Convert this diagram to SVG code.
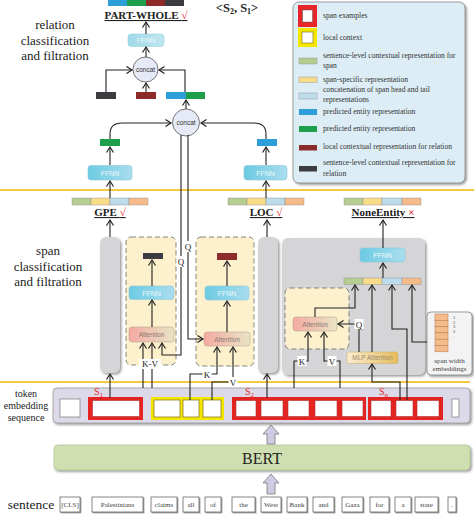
<svg xmlns="http://www.w3.org/2000/svg" width="474" height="517" viewBox="0 0 474 517">
<defs>
<style>
.lbl{font-family:"Liberation Serif",serif;font-size:13px;fill:#222;text-anchor:middle}
.leg{font-family:"Liberation Serif",serif;font-size:7.6px;fill:#333}
.ent{font-family:"Liberation Serif",serif;font-size:11px;font-weight:bold;fill:#222;text-anchor:middle;text-decoration:underline}
.red{fill:#e8262a}
.ffnn{fill:url(#gF);stroke:#8cc8da;stroke-width:0.6}
.ft{font-family:"Liberation Sans",sans-serif;font-size:7px;fill:#eef8fb;text-anchor:middle}
.att{fill:url(#gA);stroke:#b8aa90;stroke-width:0.6}
.at{font-family:"Liberation Sans",sans-serif;font-size:6.5px;fill:#8a7a72;text-anchor:middle}
.ybox{fill:#fdf0cc;stroke:#777;stroke-width:0.9;stroke-dasharray:5,3}
.gcol{fill:#d5d5d7;filter:url(#sh)}
.qk{font-family:"Liberation Serif",serif;font-size:9px;fill:#222;text-anchor:middle}
.wt{fill:#fff;stroke:#777;stroke-width:0.7}
.tk{fill:#fff;stroke:#666;stroke-width:0.8;filter:url(#sh2)}
.tt{font-family:"Liberation Serif",serif;font-size:7px;fill:#444;text-anchor:middle}
.cg{fill:#b7ce93}.cy{fill:#f9dc8a}.cb{fill:#bcdcea}.co{fill:#f6bb8a}
.pb{fill:#2c9fd9}.pg{fill:#1f9e4c}.br{fill:#8c2b29}.dk{fill:#3c3c40}
.circ{fill:#e6eaf7;stroke:#666;stroke-width:0.9}
.ct{font-family:"Liberation Sans",sans-serif;font-size:6.5px;fill:#333;text-anchor:middle}
.bs{stroke:#888;stroke-width:0.4}
#conn path{fill:none;stroke:#222;stroke-width:1.1}
</style>
<linearGradient id="gF" x1="0" x2="1"><stop offset="0" stop-color="#6ccbe2"/><stop offset="1" stop-color="#a9ddee"/></linearGradient>
<linearGradient id="gF2" x1="0" x2="1"><stop offset="0" stop-color="#9fd9e8"/><stop offset="1" stop-color="#bfe6f0"/></linearGradient>
<linearGradient id="gA" x1="0" x2="1"><stop offset="0" stop-color="#f4a9a2"/><stop offset="1" stop-color="#e9e4c6"/></linearGradient>
<linearGradient id="gM" x1="0" x2="1"><stop offset="0" stop-color="#faecd2"/><stop offset="1" stop-color="#e6bd5c"/></linearGradient>
<filter id="sh" x="-20%" y="-20%" width="140%" height="140%"><feDropShadow dx="1.5" dy="1.5" stdDeviation="1" flood-color="#444" flood-opacity="0.55"/></filter>
<filter id="sh2" x="-20%" y="-20%" width="150%" height="150%"><feDropShadow dx="1" dy="1" stdDeviation="0.6" flood-color="#333" flood-opacity="0.5"/></filter>
<marker id="a" markerWidth="9" markerHeight="9" refX="6.5" refY="4" orient="auto" markerUnits="userSpaceOnUse"><path d="M1,0.5 L6.5,4 L1,7.5" fill="none" stroke="#222" stroke-width="1.2"/></marker>
</defs>
<rect width="474" height="517" fill="#fff"/>

<!-- section labels -->
<g id="labels">
<text class="lbl" x="55" y="29">relation</text>
<text class="lbl" x="55" y="45">classification</text>
<text class="lbl" x="55" y="60">and filtration</text>
<text class="lbl" x="48" y="255">span</text>
<text class="lbl" x="48" y="271">classification</text>
<text class="lbl" x="48" y="286">and filtration</text>
<text class="lbl" x="26" y="397" style="font-size:10px">token</text>
<text class="lbl" x="26" y="409" style="font-size:10px">embedding</text>
<text class="lbl" x="26" y="421" style="font-size:10px">sequence</text>
<text class="lbl" x="31" y="509" style="font-size:13.5px">sentence</text>
</g>

<!-- separators -->
<g id="separators" stroke="#f5c842" stroke-width="2.2">
<line x1="0" y1="190" x2="474" y2="190"/>
<line x1="0" y1="382" x2="470" y2="382"/>
</g>

<!-- legend -->
<g id="legend">
<rect x="293" y="2" width="172" height="181" rx="6" fill="#dcedf5" stroke="#888" stroke-width="0.8" filter="url(#sh)"/>
<rect x="298" y="5" width="19" height="22" fill="#e8262a"/><rect x="302.5" y="10" width="10" height="12" fill="#fff" stroke="#555" stroke-width="0.5"/>
<rect x="298" y="28" width="19" height="19" fill="#f5e600"/><rect x="302" y="32" width="11" height="11" fill="#fff" stroke="#7a6a20" stroke-width="0.6"/>
<rect x="299" y="58" width="18" height="6" class="cg bs"/>
<rect x="299" y="77" width="18" height="5.5" class="cy bs"/>
<rect x="299" y="93" width="18" height="6" class="cb bs"/>
<rect x="299" y="109" width="18" height="6" class="pb"/>
<rect x="299" y="126" width="18" height="6" class="pg"/>
<rect x="299" y="145" width="18" height="5.5" class="br"/>
<rect x="299" y="166" width="18" height="5.5" class="dk"/>
<text class="leg" x="323" y="18">span examples</text>
<text class="leg" x="323" y="40">local context</text>
<text class="leg" x="323" y="58">sentence-level contextual representation for</text>
<text class="leg" x="323" y="68">span</text>
<text class="leg" x="323" y="82">span-specific representation</text>
<text class="leg" x="323" y="92">concatenation of span head and tail</text>
<text class="leg" x="323" y="102">representations</text>
<text class="leg" x="323" y="114">predicted entity representation</text>
<text class="leg" x="323" y="131">predicted entity representation</text>
<text class="leg" x="323" y="149">local contextual representation for relation</text>
<text class="leg" x="323" y="165">sentence-level contextual representation for</text>
<text class="leg" x="323" y="176">relation</text>
</g>

<!-- relation output -->
<g id="relation-output">
<rect x="108" y="0" width="19" height="6" class="pb"/>
<rect x="127" y="0" width="19" height="6" class="pg"/>
<rect x="146" y="0" width="19" height="6" class="br"/>
<rect x="165" y="0" width="19" height="6" class="dk"/>
<text class="ent" x="146" y="19">PART-WHOLE <tspan class="red">√</tspan></text>
<text x="237" y="12" style="font-family:'Liberation Serif',serif;font-size:12.5px;font-weight:bold;fill:#222;text-anchor:middle">&lt;S<tspan style="font-size:8px" dy="2">2</tspan><tspan dy="-2">, S</tspan><tspan style="font-size:8px" dy="2">1</tspan><tspan dy="-2">&gt;</tspan></text>
</g>
<g id="ffnn-rel"><rect x="128" y="34" width="36" height="12.5" rx="3" fill="url(#gF2)" stroke="#a0d2e0" stroke-width="0.6"/><text class="ft" x="146" y="43">FFNN</text></g>
<g id="concat-top"><circle cx="145.5" cy="69.5" r="12.5" class="circ"/><text class="ct" x="145.5" y="72">concat</text></g>
<g id="rel-inputs">
<rect x="96" y="92" width="20" height="7" class="dk"/>
<rect x="136" y="92" width="20" height="7" class="br"/>
<rect x="166" y="92" width="20" height="7" class="pb"/>
<rect x="186" y="92" width="19" height="7" class="pg"/>
</g>
<g id="concat-mid"><circle cx="186" cy="122.5" r="13.5" class="circ"/><text class="ct" x="186" y="125">concat</text></g>
<g id="ent-gpe-rep"><rect x="100" y="139" width="20" height="7" class="pg"/></g>
<g id="ent-loc-rep"><rect x="257" y="139" width="20" height="7" class="pb"/></g>
<g id="ffnn-gpe"><rect x="88" y="165.5" width="44" height="14.5" rx="3" class="ffnn"/><text class="ft" x="110" y="175.5">FFNN</text></g>
<g id="ffnn-loc"><rect x="244" y="165.5" width="43" height="14.5" rx="3" class="ffnn"/><text class="ft" x="265.5" y="175.5">FFNN</text></g>

<!-- entity outputs -->
<g id="gpe">
<rect x="72" y="198" width="19" height="7" class="cg bs"/><rect x="91" y="198" width="19" height="7" class="cy bs"/><rect x="110" y="198" width="19" height="7" class="cb bs"/><rect x="129" y="198" width="19" height="7" class="co bs"/>
<text class="ent" x="110" y="216">GPE <tspan class="red">√</tspan></text>
</g>
<g id="loc">
<rect x="228" y="198" width="19" height="7" class="cg bs"/><rect x="247" y="198" width="19" height="7" class="cy bs"/><rect x="266" y="198" width="19" height="7" class="cb bs"/><rect x="285" y="198" width="19" height="7" class="co bs"/>
<text class="ent" x="266" y="216">LOC <tspan class="red">√</tspan></text>
</g>
<g id="none">
<rect x="344" y="198" width="19" height="7" class="cg bs"/><rect x="363" y="198" width="19" height="7" class="cy bs"/><rect x="382" y="198" width="20" height="7" class="cb bs"/><rect x="402" y="198" width="19" height="7" class="co bs"/>
<text class="ent" x="383" y="216">NoneEntity <tspan class="red">×</tspan></text>
</g>

<!-- span columns -->
<g id="col-s1"><rect x="100" y="237" width="20" height="136" rx="6" class="gcol"/></g>
<g id="col-s2"><rect x="258" y="237" width="20" height="136" rx="6" class="gcol"/></g>
<g id="col-sn"><rect x="282" y="238" width="143" height="137" rx="6" class="gcol"/></g>

<g id="local-1">
<rect x="126" y="237" width="50" height="128" rx="5" class="ybox"/>
<rect x="143" y="253" width="20" height="6" class="dk"/>
<rect x="129" y="286" width="45" height="13.5" rx="3" class="ffnn"/><text class="ft" x="151.5" y="295.5">FFNN</text>
<rect x="129" y="327" width="45" height="15" rx="3" class="att"/><text class="at" x="151.5" y="337">Attention</text>
</g>
<g id="local-2">
<rect x="196" y="237" width="58" height="129" rx="5" class="ybox"/>
<rect x="217" y="253" width="20" height="7" class="br"/>
<rect x="205" y="286" width="44" height="14" rx="3" class="ffnn"/><text class="ft" x="227" y="296">FFNN</text>
<rect x="204" y="332" width="46" height="14" rx="3" class="att"/><text class="at" x="227" y="341.5">Attention</text>
</g>
<g id="local-n">
<rect x="285" y="288" width="64" height="61" rx="5" class="ybox"/>
<rect x="293" y="317" width="44" height="14" rx="3" class="att"/><text class="at" x="315" y="326.5">Attention</text>
</g>
<g id="ffnn-none"><rect x="360" y="248" width="45" height="14" rx="3" class="ffnn"/><text class="ft" x="382.5" y="258">FFNN</text></g>
<g id="sn-rep">
<rect x="344" y="278" width="19" height="6.5" class="cg bs"/><rect x="363" y="278" width="19" height="6.5" class="cy bs"/><rect x="382" y="278" width="20" height="6.5" class="cb bs"/><rect x="402" y="278" width="19" height="6.5" class="co bs"/>
</g>
<g id="mlp"><rect x="347" y="352" width="51" height="11.5" rx="2" fill="url(#gM)" stroke="#c9a860" stroke-width="0.5"/><text class="at" x="372.5" y="360" style="fill:#a08a70">MLP Attention</text></g>
<g id="width-emb">
<rect x="427" y="312" width="45" height="63" rx="4" fill="#f3f3f3" stroke="#888" stroke-width="0.8" filter="url(#sh)"/>
<g fill="#f6bb8a" stroke="#b07a50" stroke-width="0.5">
<rect x="435" y="314" width="13" height="6.3"/><rect x="435" y="320.3" width="13" height="6.3"/><rect x="435" y="326.6" width="13" height="6.3"/><rect x="435" y="332.9" width="13" height="6.3"/><rect x="435" y="339.2" width="13" height="6.3"/><rect x="435" y="345.5" width="13" height="6.3"/>
</g>
<g style="font-family:'Liberation Sans',sans-serif;font-size:4px;fill:#555">
<text x="453" y="319">1</text><text x="453" y="323.5">2</text><text x="453" y="328">3</text><text x="453" y="332.5">4</text><text x="453" y="337">.</text>
</g>
<text class="tt" x="449.5" y="363" style="font-size:7px">span width</text>
<text class="tt" x="449.5" y="371" style="font-size:7px">embeddings</text>
</g>

<!-- token embedding sequence -->
<g id="tokens">
<rect x="53" y="388" width="417" height="35" rx="4" fill="#dcd9e8" stroke="#999" stroke-width="0.8" filter="url(#sh)"/>
<rect x="60" y="399" width="20" height="18" class="wt"/>
<rect x="88" y="397" width="55" height="23" fill="#e52421"/><rect x="92.5" y="400.5" width="47" height="16" fill="#fff" stroke="#a33" stroke-width="0.6"/>
<rect x="151" y="397" width="73" height="23" fill="#f5e600"/>
<g fill="#fff" stroke="#8a7a2a" stroke-width="0.8"><rect x="154" y="400" width="26" height="17"/><rect x="183" y="400" width="16" height="17"/><rect x="203" y="400" width="18" height="17"/></g>
<rect x="232" y="397" width="134" height="23" fill="#e52421"/>
<rect x="368" y="397" width="75" height="23" fill="#e52421"/>
<g fill="#fff" stroke="#a33" stroke-width="0.6">
<rect x="236" y="400.5" width="20" height="16"/><rect x="261" y="400.5" width="22" height="16"/><rect x="288" y="400.5" width="21" height="16"/><rect x="315" y="400.5" width="22" height="16"/><rect x="342" y="400.5" width="21" height="16"/>
<rect x="371" y="400.5" width="20" height="16"/><rect x="396" y="400.5" width="17" height="16"/><rect x="417" y="400.5" width="22" height="16"/>
</g>
<rect x="452" y="399" width="7" height="18" class="wt"/>
<text x="94" y="395" style="font-family:'Liberation Serif',serif;font-size:10px;fill:#e8262a">S<tspan style="font-size:7px" dy="1.5">1</tspan></text>
<text x="245" y="395" style="font-family:'Liberation Serif',serif;font-size:10px;fill:#e8262a">S<tspan style="font-size:7px" dy="1.5">2</tspan></text>
<text x="379" y="395" style="font-family:'Liberation Serif',serif;font-size:10px;fill:#e8262a">S<tspan style="font-size:7px" dy="1.5">n</tspan></text>
</g>

<g id="bert">
<rect x="54" y="445" width="416" height="25" rx="4" fill="#cfdfb1" stroke="#b5c69a" stroke-width="0.8" filter="url(#sh)"/>
<text x="262" y="464" style="font-family:'Liberation Serif',serif;font-size:16px;fill:#222;text-anchor:middle">BERT</text>
</g>

<g id="sentence">
<rect x="60" y="497" width="20" height="15" class="tk"/><text class="tt" x="70" y="507">[CLS]</text>
<rect x="92" y="497" width="51" height="15" class="tk"/><text class="tt" x="117.5" y="507">Palestinians</text>
<rect x="151" y="497" width="26" height="15" class="tk"/><text class="tt" x="164" y="507">claims</text>
<rect x="183" y="497" width="16" height="15" class="tk"/><text class="tt" x="191" y="507">all</text>
<rect x="205" y="497" width="16" height="15" class="tk"/><text class="tt" x="213" y="507">of</text>
<rect x="232" y="497" width="23" height="15" class="tk"/><text class="tt" x="243.5" y="507">the</text>
<rect x="261" y="497" width="20" height="15" class="tk"/><text class="tt" x="271" y="507">West</text>
<rect x="287" y="497" width="20" height="15" class="tk"/><text class="tt" x="297" y="507">Bank</text>
<rect x="313" y="497" width="21" height="15" class="tk"/><text class="tt" x="323.5" y="507">and</text>
<rect x="342" y="497" width="21" height="15" class="tk"/><text class="tt" x="352.5" y="507">Gaza</text>
<rect x="370" y="497" width="19" height="15" class="tk"/><text class="tt" x="379.5" y="507">for</text>
<rect x="395" y="497" width="16" height="15" class="tk"/><text class="tt" x="403" y="507">a</text>
<rect x="415" y="497" width="23" height="15" class="tk"/><text class="tt" x="426.5" y="507">state</text>
<rect x="448" y="497" width="8" height="15" class="tk"/><text class="tt" x="452" y="507">.</text>
</g>

<!-- connectors -->
<g id="conn">
<path d="M146,34 V22" marker-end="url(#a)"/>
<path d="M146,57 V47" marker-end="url(#a)"/>
<path d="M106,92 V70 H132" marker-end="url(#a)"/>
<path d="M146,92 V83" marker-end="url(#a)"/>
<path d="M185,92 V70 H159" marker-end="url(#a)"/>
<path d="M186,109 V100" marker-end="url(#a)"/>
<path d="M110,139 V134 Q110,123 122,123 L171,123" marker-end="url(#a)"/>
<path d="M266,139 V134 Q266,123 254,123 L201,123" marker-end="url(#a)"/>
<path d="M110,165 V147" marker-end="url(#a)"/>
<path d="M266,165 V147" marker-end="url(#a)"/>
<path d="M110,198 V181" marker-end="url(#a)"/>
<path d="M266,198 V181" marker-end="url(#a)"/>
<path d="M110,237 V220" marker-end="url(#a)"/>
<path d="M267,237 V220" marker-end="url(#a)"/>
<path d="M383,248 V220" marker-end="url(#a)"/>
<path d="M110,398 V374" marker-end="url(#a)"/>
<path d="M267,398 V374" marker-end="url(#a)"/>
<path d="M181,135 V355 H162 V343" marker-end="url(#a)"/>
<path d="M188,135 V339 H203" marker-end="url(#a)"/>
<path d="M152,327 V300" marker-end="url(#a)"/>
<path d="M152,286 V260" marker-end="url(#a)"/>
<path d="M143,388 V343" marker-end="url(#a)"/>
<path d="M152,388 V343" marker-end="url(#a)"/>
<path d="M227,332 V301" marker-end="url(#a)"/>
<path d="M227,286 V261" marker-end="url(#a)"/>
<path d="M190,400 V374 H217 V347" marker-end="url(#a)"/>
<path d="M212,400 V382 H233 V347" marker-end="url(#a)"/>
<path d="M383,278 V263" marker-end="url(#a)"/>
<path d="M315,317 V308 H355 V285" marker-end="url(#a)"/>
<path d="M372,352 V285" marker-end="url(#a)"/>
<path d="M407,400 V329 H392 V285" marker-end="url(#a)"/>
<path d="M427,342 H412 V285" marker-end="url(#a)"/>
<path d="M400,400 V382 H372 V364" marker-end="url(#a)"/>
<path d="M359,352 V324 H338" marker-end="url(#a)"/>
<path d="M294,388 V361 H308 V332" marker-end="url(#a)"/>
<path d="M340,388 V361 H324 V332" marker-end="url(#a)"/>
</g>
<g id="conn-labels">
<rect x="176.5" y="256" width="9" height="11" fill="#fff"/><text class="qk" x="181" y="265">Q</text>
<rect x="183.5" y="241" width="9" height="11" fill="#fff"/><text class="qk" x="188" y="250">Q</text>
<rect x="139" y="359" width="22" height="10" fill="#fff"/><text class="qk" x="150" y="367">K-V</text>
<rect x="202.5" y="369" width="9" height="10" fill="#fff"/><text class="qk" x="207" y="377.5">K</text>
<rect x="228.5" y="377" width="9" height="10" fill="#fff"/><text class="qk" x="233" y="385.5">V</text>
<rect x="354.5" y="319" width="9" height="10" fill="#fff"/><text class="qk" x="359" y="327.5">Q</text>
<rect x="297.5" y="356" width="9" height="10" fill="#fff"/><text class="qk" x="302" y="364.5">K</text>
<rect x="327.5" y="356" width="9" height="10" fill="#fff"/><text class="qk" x="332" y="364.5">V</text>
</g>

<!-- fat arrows -->
<g id="fat-arrows" fill="#cfcbe3" stroke="#777" stroke-width="0.8">
<polygon points="271,425 279,434 275,434 275,444 267,444 267,434 263,434"/>
<polygon points="271,474 279,483 275,483 275,494 267,494 267,483 263,483"/>
</g>
</svg>
